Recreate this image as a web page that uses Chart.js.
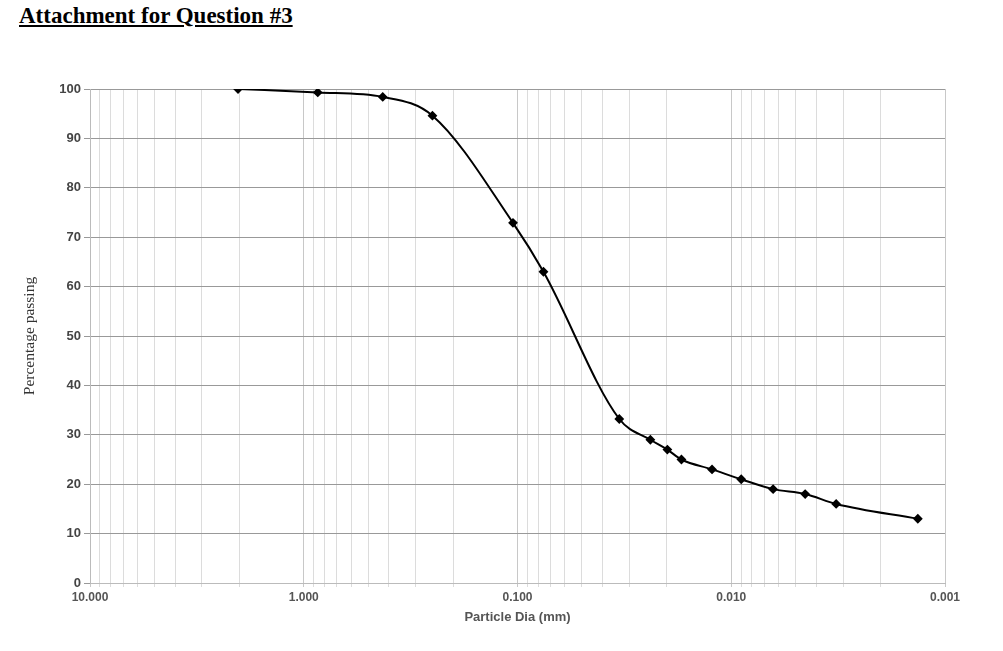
<!DOCTYPE html>
<html><head><meta charset="utf-8">
<script src="https://cdn.jsdelivr.net/npm/chart.js@4"></script>
<style>
body{margin:0;background:#fff;width:1003px;height:651px;position:relative;overflow:hidden}
#t{position:absolute;left:19px;top:3px;font:bold 23px "Liberation Serif",serif;text-decoration:underline;color:#000}
#c{position:absolute;left:0;top:0}
</style></head><body>
<div id="t">Attachment for Question #3</div>
<canvas id="c" width="1003" height="651"></canvas>
<script>
const diameters=[2.03,0.86,0.427,0.25,0.105,0.0756,0.0334,0.0239,0.0199,0.0171,0.0123,0.00898,0.00637,0.00451,0.00323,0.00134];
const passing=[100,99.3,98.4,94.6,72.9,63,33.2,29,27,25,23,21,19,18,16,13];
const xTicks=[10,1,0.1,0.01,0.001];
const minorTicks=[];
for(const d of [1,0.1,0.01,0.001]) for(let k=1;k<10;k++) minorTicks.push(+(d*k).toPrecision(3));
const allTicks=[...new Set([...minorTicks,10])].sort((a,b)=>a-b);
const isMajor=v=>xTicks.some(t=>Math.abs(t-v)/t<1e-6);
new Chart(document.getElementById('c'),{
 type:'line',
 data:{datasets:[{data:diameters.map((d,i)=>({x:d,y:passing[i]})),borderColor:'#000',borderWidth:2,
  pointStyle:'rectRot',pointRadius:3.5,pointBackgroundColor:'#000',pointBorderColor:'#000',cubicInterpolationMode:'monotone'}]},
 options:{responsive:false,animation:false,
  layout:{padding:{top:89,left:17,right:58,bottom:22}},
  plugins:{legend:{display:false},tooltip:{enabled:false}},
  scales:{
   x:{type:'logarithmic',reverse:true,min:0.001,max:10,
    afterBuildTicks:s=>{s.ticks=allTicks.map(v=>({value:v}));},
    afterFit:s=>{s.height=46;},
    border:{color:'#bbb'},
    grid:{color:c=>isMajor(c.tick.value)?'#c8c8c8':'#dcdcdc',lineWidth:1,drawTicks:true,tickLength:4},
    ticks:{autoSkip:false,maxRotation:0,color:'#555',font:{family:'Liberation Sans',size:12,weight:'bold'},
     callback:(v)=>isMajor(v)?Number(v).toFixed(3):''},
    title:{display:true,text:'Particle Dia (mm)',color:'#555',font:{family:'Liberation Sans',size:13,weight:'bold'},padding:{top:0}}},
   y:{min:0,max:100,
    afterFit:s=>{s.width=73;},
    border:{color:'#bbb'},
    grid:{color:'#999',tickLength:6},
    ticks:{stepSize:10,color:'#444',font:{family:'Liberation Sans',size:13,weight:'bold'}},
    title:{display:true,text:'Percentage passing',color:'#333',font:{family:'Liberation Serif',size:15.5}}}
  }}
});
</script></body></html>
